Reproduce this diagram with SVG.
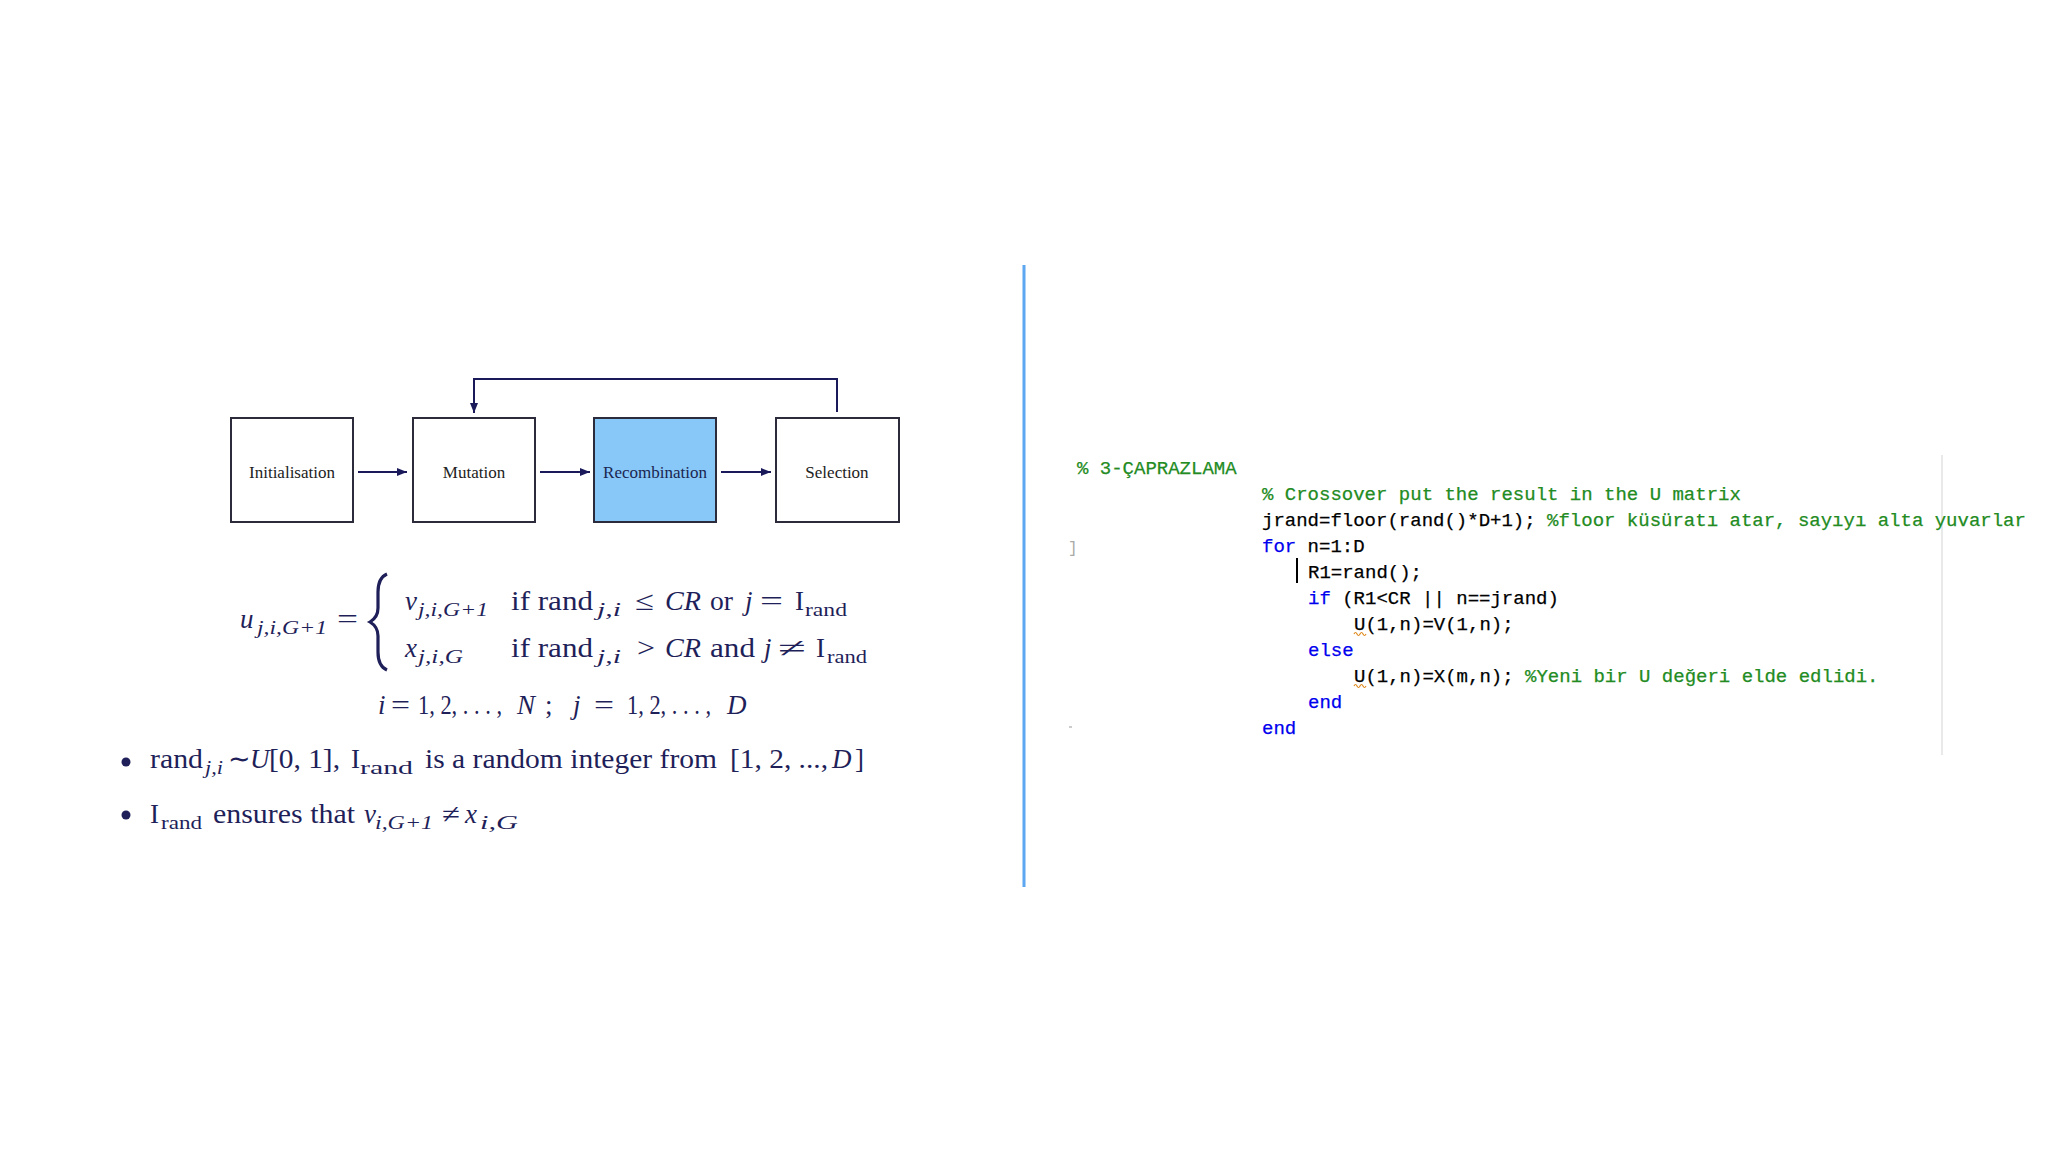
<svg xmlns="http://www.w3.org/2000/svg" width="2048" height="1152" viewBox="0 0 2048 1152">
<defs>
<marker id="ah" viewBox="0 0 10 8" refX="10" refY="4" markerWidth="10" markerHeight="8" markerUnits="userSpaceOnUse" orient="auto">
<path d="M0,0 L10,4 L0,8 Z" fill="#1a1a5a"/>
</marker>
<style>
.box{fill:#fff;stroke:#2b2b3b;stroke-width:2}
.lbl{font-family:"Liberation Serif","Times New Roman",serif;font-size:17px;fill:#222;text-anchor:middle}
.conn{fill:none;stroke:#1a1a5a;stroke-width:2}
.m{font-family:"Liberation Serif","Times New Roman",serif;font-size:27px;fill:#1f1f5a}
.i{font-style:italic}
.s{font-size:18px}
.code{font-family:"Liberation Mono","Courier New",monospace;font-size:19px;fill:#000;stroke:#000;stroke-width:0.25}
.cm{fill:#228b22;stroke:#228b22}
.kw{fill:#0000ee;stroke:#0000ee}
</style>
</defs>
<rect width="2048" height="1152" fill="#fff"/>

<g id="connectors">
<line class="conn" x1="358" y1="472" x2="407" y2="472" marker-end="url(#ah)"/>
<line class="conn" x1="540" y1="472" x2="590" y2="472" marker-end="url(#ah)"/>
<line class="conn" x1="721" y1="472" x2="771" y2="472" marker-end="url(#ah)"/>
<path class="conn" d="M837,412 V379 H474 V413" marker-end="url(#ah)"/>
</g>

<g id="node-initialisation">
<rect class="box" x="231" y="418" width="122" height="104"/>
<text class="lbl" x="292" y="478">Initialisation</text>
</g>
<g id="node-mutation">
<rect class="box" x="413" y="418" width="122" height="104"/>
<text class="lbl" x="474" y="478">Mutation</text>
</g>
<g id="node-recombination">
<rect class="box" x="594" y="418" width="122" height="104" style="fill:#88c8f8"/>
<text class="lbl" x="655" y="478" style="fill:#1a2550">Recombination</text>
</g>
<g id="node-selection">
<rect class="box" x="776" y="418" width="123" height="104"/>
<text class="lbl" x="837" y="478">Selection</text>
</g>

<g id="formula">
<text class="m i" x="240" y="628">u</text>
<text class="m i s" x="257" y="634" textLength="70" lengthAdjust="spacingAndGlyphs">j,i,G+1</text>
<text class="m" x="337" y="628" textLength="21" lengthAdjust="spacingAndGlyphs">=</text>
<path d="M387,574 C380,577 378,583 378,592 L378,608 C378,615 375,619 370,622 C375,625 378,629 378,636 L378,652 C378,661 380,667 387,670" fill="none" stroke="#1f1f5a" stroke-width="3.2"/>

<text class="m i" x="405" y="610">v</text>
<text class="m i s" x="418" y="616" textLength="70" lengthAdjust="spacingAndGlyphs">j,i,G+1</text>
<text class="m" x="511" y="610" textLength="82" lengthAdjust="spacingAndGlyphs">if rand</text>
<text class="m i s" x="597" y="616" textLength="24" lengthAdjust="spacingAndGlyphs">j,i</text>
<text class="m" x="635" y="610" textLength="19" lengthAdjust="spacingAndGlyphs">≤</text>
<text class="m i" x="665" y="610" textLength="36" lengthAdjust="spacingAndGlyphs">CR</text>
<text class="m" x="710" y="610" textLength="23" lengthAdjust="spacingAndGlyphs">or</text>
<text class="m i" x="745" y="610">j</text>
<text class="m" x="760" y="610" textLength="23" lengthAdjust="spacingAndGlyphs">=</text>
<text class="m" x="795" y="610">I</text>
<text class="m s" x="805" y="616" textLength="42" lengthAdjust="spacingAndGlyphs">rand</text>

<text class="m i" x="405" y="657">x</text>
<text class="m i s" x="418" y="663" textLength="45" lengthAdjust="spacingAndGlyphs">j,i,G</text>
<text class="m" x="511" y="657" textLength="82" lengthAdjust="spacingAndGlyphs">if rand</text>
<text class="m i s" x="597" y="663" textLength="24" lengthAdjust="spacingAndGlyphs">j,i</text>
<text class="m" x="637" y="657" textLength="18" lengthAdjust="spacingAndGlyphs">&gt;</text>
<text class="m i" x="665" y="657" textLength="36" lengthAdjust="spacingAndGlyphs">CR</text>
<text class="m" x="710" y="657" textLength="45" lengthAdjust="spacingAndGlyphs">and</text>
<text class="m i" x="764" y="657">j</text>
<text class="m" x="778" y="657" textLength="28" lengthAdjust="spacingAndGlyphs">≠</text>
<text class="m" x="816" y="657">I</text>
<text class="m s" x="827" y="663" textLength="40" lengthAdjust="spacingAndGlyphs">rand</text>

<text class="m i" x="378" y="714">i</text>
<text class="m" x="391" y="714" textLength="19" lengthAdjust="spacingAndGlyphs">=</text>
<text class="m" x="418" y="714" textLength="84" lengthAdjust="spacingAndGlyphs">1, 2, . . . ,</text>
<text class="m i" x="517" y="714">N</text>
<text class="m" x="545" y="714">;</text>
<text class="m i" x="573" y="714">j</text>
<text class="m" x="594" y="714" textLength="20" lengthAdjust="spacingAndGlyphs">=</text>
<text class="m" x="627" y="714" textLength="84" lengthAdjust="spacingAndGlyphs">1, 2, . . . ,</text>
<text class="m i" x="727" y="714">D</text>
</g>

<g id="bullets">
<circle cx="126" cy="762" r="4.5" fill="#1f1f5a"/>
<text class="m" x="150" y="768" textLength="53" lengthAdjust="spacingAndGlyphs">rand</text>
<text class="m i s" x="205" y="774" textLength="18" lengthAdjust="spacingAndGlyphs">j,i</text>
<text class="m" x="228" y="768">∼</text>
<text class="m i" x="250" y="768">U</text>
<text class="m" x="269" y="768" textLength="71" lengthAdjust="spacingAndGlyphs">[0, 1],</text>
<text class="m" x="351" y="768">I</text>
<text class="m s" x="360" y="774" textLength="53" lengthAdjust="spacingAndGlyphs">rand</text>
<text class="m" x="425" y="768" textLength="292" lengthAdjust="spacingAndGlyphs">is a random integer from</text>
<text class="m" x="730" y="768" textLength="98" lengthAdjust="spacingAndGlyphs">[1, 2, ..., </text>
<text class="m i" x="832" y="768">D</text>
<text class="m" x="855" y="768">]</text>

<circle cx="126" cy="815" r="4.5" fill="#1f1f5a"/>
<text class="m" x="150" y="823">I</text>
<text class="m s" x="161" y="829" textLength="41" lengthAdjust="spacingAndGlyphs">rand</text>
<text class="m" x="213" y="823" textLength="142" lengthAdjust="spacingAndGlyphs">ensures that</text>
<text class="m i" x="364" y="823">v</text>
<text class="m i s" x="375" y="829" textLength="58" lengthAdjust="spacingAndGlyphs">i,G+1</text>
<text class="m" x="442" y="823" textLength="18" lengthAdjust="spacingAndGlyphs">≠</text>
<text class="m i" x="465" y="823">x</text>
<text class="m i s" x="480" y="829" textLength="38" lengthAdjust="spacingAndGlyphs">i,G</text>
</g>

<line id="divider" x1="1024" y1="265" x2="1024" y2="887" stroke="#5ca6f2" stroke-width="3"/>

<g id="code">
<line x1="1942" y1="455" x2="1942" y2="755" stroke="#e2e2e2" stroke-width="1.5"/>
<text x="1068" y="553" font-family="Liberation Mono, monospace" font-size="16" fill="#aaa">]</text>
<line x1="1069" y1="727" x2="1072" y2="727" stroke="#bbb" stroke-width="1.5"/>
<line x1="1297" y1="558" x2="1297" y2="583" stroke="#000" stroke-width="2"/>
<path d="M1354,634 q1.5,-3 3,0 t3,0 t3,0 t3,0" fill="none" stroke="#e08a1e" stroke-width="1.2"/>
<path d="M1354,686 q1.5,-3 3,0 t3,0 t3,0 t3,0" fill="none" stroke="#e08a1e" stroke-width="1.2"/>
<text class="code cm" x="1077" y="474">% 3-ÇAPRAZLAMA</text>
<text class="code cm" x="1262" y="500">% Crossover put the result in the U matrix</text>
<text class="code" x="1262" y="526">jrand=floor(rand()*D+1); <tspan class="cm">%floor küsüratı atar, sayıyı alta yuvarlar</tspan></text>
<text class="code" x="1262" y="552"><tspan class="kw">for</tspan> n=1:D</text>
<text class="code" x="1308" y="578">R1=rand();</text>
<text class="code" x="1308" y="604"><tspan class="kw">if</tspan> (R1&lt;CR || n==jrand)</text>
<text class="code" x="1354" y="630">U(1,n)=V(1,n);</text>
<text class="code kw" x="1308" y="656">else</text>
<text class="code" x="1354" y="682">U(1,n)=X(m,n); <tspan class="cm">%Yeni bir U değeri elde edlidi.</tspan></text>
<text class="code kw" x="1308" y="708">end</text>
<text class="code kw" x="1262" y="734">end</text>
</g>
</svg>
